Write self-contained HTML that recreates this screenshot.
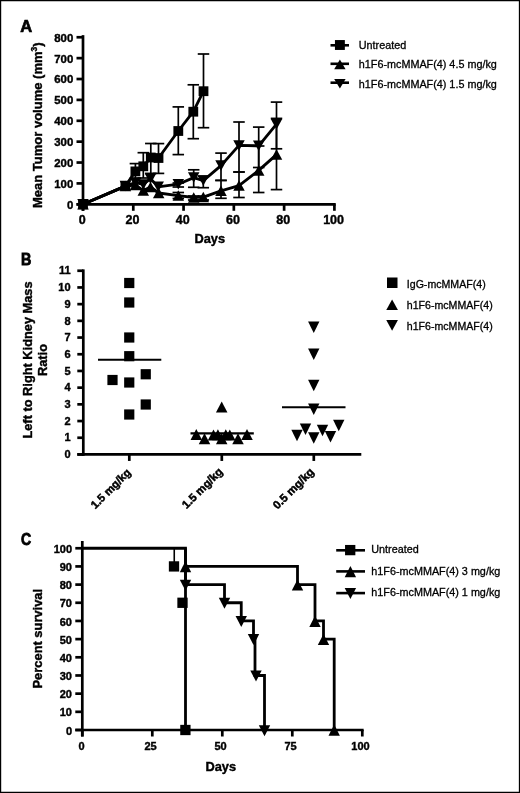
<!DOCTYPE html>
<html><head><meta charset="utf-8"><title>Figure</title>
<style>
html,body{margin:0;padding:0;background:#fff;}
#fig{position:relative;width:520px;height:793px;overflow:hidden;background:#fff;}
#fig svg{position:absolute;left:0;top:0;}
svg text{font-family:"Liberation Sans", Arial, sans-serif;fill:#000;}
svg text.b{font-weight:bold;stroke:#000;stroke-width:.4px;}
svg text.r{font-weight:normal;stroke:#000;stroke-width:.3px;}
</style></head><body>
<div id="fig">
<svg width="520" height="793" viewBox="0 0 520 793" shape-rendering="auto">
<path d="M0 0H520V793H0Z M1.2 1.15V791.75H518.85V1.15Z" fill="#000" fill-rule="evenodd"/>
<line x1="83.00" y1="35.15" x2="83.00" y2="210.80" stroke="#000" stroke-width="2.7" />
<line x1="76.50" y1="204.30" x2="335.75" y2="204.30" stroke="#000" stroke-width="2.7" />
<line x1="76.50" y1="204.30" x2="83.00" y2="204.30" stroke="#000" stroke-width="2.7" />
<text class="b" x="73.30" y="208.70" font-size="11.4" text-anchor="end" >0</text>
<line x1="76.50" y1="183.42" x2="83.00" y2="183.42" stroke="#000" stroke-width="2.7" />
<text class="b" x="73.30" y="187.82" font-size="11.4" text-anchor="end" >100</text>
<line x1="76.50" y1="162.54" x2="83.00" y2="162.54" stroke="#000" stroke-width="2.7" />
<text class="b" x="73.30" y="166.94" font-size="11.4" text-anchor="end" >200</text>
<line x1="76.50" y1="141.66" x2="83.00" y2="141.66" stroke="#000" stroke-width="2.7" />
<text class="b" x="73.30" y="146.06" font-size="11.4" text-anchor="end" >300</text>
<line x1="76.50" y1="120.78" x2="83.00" y2="120.78" stroke="#000" stroke-width="2.7" />
<text class="b" x="73.30" y="125.18" font-size="11.4" text-anchor="end" >400</text>
<line x1="76.50" y1="99.90" x2="83.00" y2="99.90" stroke="#000" stroke-width="2.7" />
<text class="b" x="73.30" y="104.30" font-size="11.4" text-anchor="end" >500</text>
<line x1="76.50" y1="79.02" x2="83.00" y2="79.02" stroke="#000" stroke-width="2.7" />
<text class="b" x="73.30" y="83.42" font-size="11.4" text-anchor="end" >600</text>
<line x1="76.50" y1="58.14" x2="83.00" y2="58.14" stroke="#000" stroke-width="2.7" />
<text class="b" x="73.30" y="62.54" font-size="11.4" text-anchor="end" >700</text>
<line x1="76.50" y1="37.26" x2="83.00" y2="37.26" stroke="#000" stroke-width="2.7" />
<text class="b" x="73.30" y="41.66" font-size="11.4" text-anchor="end" >800</text>
<line x1="83.00" y1="204.30" x2="83.00" y2="210.80" stroke="#000" stroke-width="2.7" />
<text class="b" x="82.20" y="223.90" font-size="12.5" text-anchor="middle" >0</text>
<line x1="133.28" y1="204.30" x2="133.28" y2="210.80" stroke="#000" stroke-width="2.7" />
<text class="b" x="132.48" y="223.90" font-size="12.5" text-anchor="middle" >20</text>
<line x1="183.56" y1="204.30" x2="183.56" y2="210.80" stroke="#000" stroke-width="2.7" />
<text class="b" x="182.76" y="223.90" font-size="12.5" text-anchor="middle" >40</text>
<line x1="233.84" y1="204.30" x2="233.84" y2="210.80" stroke="#000" stroke-width="2.7" />
<text class="b" x="233.04" y="223.90" font-size="12.5" text-anchor="middle" >60</text>
<line x1="284.12" y1="204.30" x2="284.12" y2="210.80" stroke="#000" stroke-width="2.7" />
<text class="b" x="283.32" y="223.90" font-size="12.5" text-anchor="middle" >80</text>
<line x1="334.40" y1="204.30" x2="334.40" y2="210.80" stroke="#000" stroke-width="2.7" />
<text class="b" x="333.60" y="223.90" font-size="12.5" text-anchor="middle" >100</text>
<text class="b" x="209.80" y="242.70" font-size="12.8" text-anchor="middle" >Days</text>
<text transform="translate(41.6,125.2) rotate(-90)" font-size="13.0" class="b" text-anchor="middle">Mean Tumor volume (mm<tspan font-size="8.5" dy="-4.5">3</tspan><tspan dy="4.5">)</tspan></text>
<text class="b" x="26.20" y="31.80" font-size="16.5" text-anchor="middle" style="stroke-width:.7px">A</text>
<line x1="178.30" y1="192.50" x2="178.30" y2="198.50" stroke="#000" stroke-width="1.7" /><line x1="172.55" y1="192.50" x2="184.05" y2="192.50" stroke="#000" stroke-width="1.7" /><line x1="172.55" y1="198.50" x2="184.05" y2="198.50" stroke="#000" stroke-width="1.7" />
<line x1="193.70" y1="196.00" x2="193.70" y2="200.00" stroke="#000" stroke-width="1.7" /><line x1="187.95" y1="196.00" x2="199.45" y2="196.00" stroke="#000" stroke-width="1.7" /><line x1="187.95" y1="200.00" x2="199.45" y2="200.00" stroke="#000" stroke-width="1.7" />
<line x1="203.30" y1="196.00" x2="203.30" y2="200.00" stroke="#000" stroke-width="1.7" /><line x1="197.55" y1="196.00" x2="209.05" y2="196.00" stroke="#000" stroke-width="1.7" /><line x1="197.55" y1="200.00" x2="209.05" y2="200.00" stroke="#000" stroke-width="1.7" />
<line x1="221.00" y1="180.40" x2="221.00" y2="198.30" stroke="#000" stroke-width="1.7" /><line x1="215.25" y1="180.40" x2="226.75" y2="180.40" stroke="#000" stroke-width="1.7" /><line x1="215.25" y1="198.30" x2="226.75" y2="198.30" stroke="#000" stroke-width="1.7" />
<line x1="239.00" y1="172.00" x2="239.00" y2="197.50" stroke="#000" stroke-width="1.7" /><line x1="233.25" y1="172.00" x2="244.75" y2="172.00" stroke="#000" stroke-width="1.7" /><line x1="233.25" y1="197.50" x2="244.75" y2="197.50" stroke="#000" stroke-width="1.7" />
<line x1="258.70" y1="146.00" x2="258.70" y2="192.50" stroke="#000" stroke-width="1.7" /><line x1="252.95" y1="146.00" x2="264.45" y2="146.00" stroke="#000" stroke-width="1.7" /><line x1="252.95" y1="192.50" x2="264.45" y2="192.50" stroke="#000" stroke-width="1.7" />
<line x1="276.50" y1="118.40" x2="276.50" y2="189.60" stroke="#000" stroke-width="1.7" /><line x1="270.75" y1="118.40" x2="282.25" y2="118.40" stroke="#000" stroke-width="1.7" /><line x1="270.75" y1="189.60" x2="282.25" y2="189.60" stroke="#000" stroke-width="1.7" />
<polyline points="83.00,204.30 125.40,186.10 135.40,185.00 143.30,190.60 150.50,187.00 158.70,193.00 178.30,195.60 193.70,197.50 203.30,197.10 221.00,190.80 239.00,185.60 258.70,170.40 276.50,154.60" fill="none" stroke="#000" stroke-width="2.85" stroke-linejoin="round"/>
<polygon points="77.25,209.55 88.75,209.55 83.00,199.05"/>
<polygon points="119.65,191.35 131.15,191.35 125.40,180.85"/>
<polygon points="129.65,190.25 141.15,190.25 135.40,179.75"/>
<polygon points="137.55,195.85 149.05,195.85 143.30,185.35"/>
<polygon points="144.75,192.25 156.25,192.25 150.50,181.75"/>
<polygon points="152.95,198.25 164.45,198.25 158.70,187.75"/>
<polygon points="172.55,200.85 184.05,200.85 178.30,190.35"/>
<polygon points="187.95,202.75 199.45,202.75 193.70,192.25"/>
<polygon points="197.55,202.35 209.05,202.35 203.30,191.85"/>
<polygon points="215.25,196.05 226.75,196.05 221.00,185.55"/>
<polygon points="233.25,190.85 244.75,190.85 239.00,180.35"/>
<polygon points="252.95,175.65 264.45,175.65 258.70,165.15"/>
<polygon points="270.75,159.85 282.25,159.85 276.50,149.35"/>
<line x1="178.30" y1="183.00" x2="178.30" y2="187.00" stroke="#000" stroke-width="1.7" /><line x1="172.55" y1="183.00" x2="184.05" y2="183.00" stroke="#000" stroke-width="1.7" /><line x1="172.55" y1="187.00" x2="184.05" y2="187.00" stroke="#000" stroke-width="1.7" />
<line x1="193.70" y1="169.80" x2="193.70" y2="187.30" stroke="#000" stroke-width="1.7" /><line x1="187.95" y1="169.80" x2="199.45" y2="169.80" stroke="#000" stroke-width="1.7" /><line x1="187.95" y1="187.30" x2="199.45" y2="187.30" stroke="#000" stroke-width="1.7" />
<line x1="203.30" y1="176.20" x2="203.30" y2="187.70" stroke="#000" stroke-width="1.7" /><line x1="197.55" y1="176.20" x2="209.05" y2="176.20" stroke="#000" stroke-width="1.7" /><line x1="197.55" y1="187.70" x2="209.05" y2="187.70" stroke="#000" stroke-width="1.7" />
<line x1="221.00" y1="153.10" x2="221.00" y2="180.40" stroke="#000" stroke-width="1.7" /><line x1="215.25" y1="153.10" x2="226.75" y2="153.10" stroke="#000" stroke-width="1.7" /><line x1="215.25" y1="180.40" x2="226.75" y2="180.40" stroke="#000" stroke-width="1.7" />
<line x1="239.00" y1="122.00" x2="239.00" y2="172.00" stroke="#000" stroke-width="1.7" /><line x1="233.25" y1="122.00" x2="244.75" y2="122.00" stroke="#000" stroke-width="1.7" /><line x1="233.25" y1="172.00" x2="244.75" y2="172.00" stroke="#000" stroke-width="1.7" />
<line x1="258.70" y1="127.10" x2="258.70" y2="167.50" stroke="#000" stroke-width="1.7" /><line x1="252.95" y1="127.10" x2="264.45" y2="127.10" stroke="#000" stroke-width="1.7" /><line x1="252.95" y1="167.50" x2="264.45" y2="167.50" stroke="#000" stroke-width="1.7" />
<line x1="276.50" y1="102.10" x2="276.50" y2="148.80" stroke="#000" stroke-width="1.7" /><line x1="270.75" y1="102.10" x2="282.25" y2="102.10" stroke="#000" stroke-width="1.7" /><line x1="270.75" y1="148.80" x2="282.25" y2="148.80" stroke="#000" stroke-width="1.7" />
<polyline points="83.00,204.30 125.40,186.10 135.40,182.50 143.30,184.40 150.50,178.70 158.20,186.80 178.30,184.20 193.70,177.60 203.30,180.60 221.00,165.60 239.00,145.40 258.70,145.80 276.50,124.20" fill="none" stroke="#000" stroke-width="2.85" stroke-linejoin="round"/>
<polygon points="77.25,199.05 88.75,199.05 83.00,209.55"/>
<polygon points="119.65,180.85 131.15,180.85 125.40,191.35"/>
<polygon points="129.65,177.25 141.15,177.25 135.40,187.75"/>
<polygon points="137.55,179.15 149.05,179.15 143.30,189.65"/>
<polygon points="144.75,173.45 156.25,173.45 150.50,183.95"/>
<polygon points="152.45,181.55 163.95,181.55 158.20,192.05"/>
<polygon points="172.55,178.95 184.05,178.95 178.30,189.45"/>
<polygon points="187.95,172.35 199.45,172.35 193.70,182.85"/>
<polygon points="197.55,175.35 209.05,175.35 203.30,185.85"/>
<polygon points="215.25,160.35 226.75,160.35 221.00,170.85"/>
<polygon points="233.25,140.15 244.75,140.15 239.00,150.65"/>
<polygon points="252.95,140.55 264.45,140.55 258.70,151.05"/>
<polygon points="270.75,118.95 282.25,118.95 276.50,129.45"/>
<line x1="135.40" y1="163.60" x2="135.40" y2="178.50" stroke="#000" stroke-width="1.7" /><line x1="129.65" y1="163.60" x2="141.15" y2="163.60" stroke="#000" stroke-width="1.7" /><line x1="129.65" y1="178.50" x2="141.15" y2="178.50" stroke="#000" stroke-width="1.7" />
<line x1="143.30" y1="152.70" x2="143.30" y2="178.00" stroke="#000" stroke-width="1.7" /><line x1="137.55" y1="152.70" x2="149.05" y2="152.70" stroke="#000" stroke-width="1.7" /><line x1="137.55" y1="178.00" x2="149.05" y2="178.00" stroke="#000" stroke-width="1.7" />
<line x1="150.80" y1="143.50" x2="150.80" y2="173.40" stroke="#000" stroke-width="1.7" /><line x1="145.05" y1="143.50" x2="156.55" y2="143.50" stroke="#000" stroke-width="1.7" /><line x1="145.05" y1="173.40" x2="156.55" y2="173.40" stroke="#000" stroke-width="1.7" />
<line x1="158.50" y1="143.60" x2="158.50" y2="173.40" stroke="#000" stroke-width="1.7" /><line x1="152.75" y1="143.60" x2="164.25" y2="143.60" stroke="#000" stroke-width="1.7" /><line x1="152.75" y1="173.40" x2="164.25" y2="173.40" stroke="#000" stroke-width="1.7" />
<line x1="178.30" y1="106.90" x2="178.30" y2="154.60" stroke="#000" stroke-width="1.7" /><line x1="172.55" y1="106.90" x2="184.05" y2="106.90" stroke="#000" stroke-width="1.7" /><line x1="172.55" y1="154.60" x2="184.05" y2="154.60" stroke="#000" stroke-width="1.7" />
<line x1="193.30" y1="84.80" x2="193.30" y2="138.70" stroke="#000" stroke-width="1.7" /><line x1="187.55" y1="84.80" x2="199.05" y2="84.80" stroke="#000" stroke-width="1.7" /><line x1="187.55" y1="138.70" x2="199.05" y2="138.70" stroke="#000" stroke-width="1.7" />
<line x1="203.50" y1="54.00" x2="203.50" y2="127.70" stroke="#000" stroke-width="1.7" /><line x1="197.75" y1="54.00" x2="209.25" y2="54.00" stroke="#000" stroke-width="1.7" /><line x1="197.75" y1="127.70" x2="209.25" y2="127.70" stroke="#000" stroke-width="1.7" />
<polyline points="83.00,204.30 125.40,186.10 135.40,171.40 143.30,166.30 150.80,157.50 158.50,158.00 178.30,131.00 193.30,111.70 203.50,91.20" fill="none" stroke="#000" stroke-width="2.85" stroke-linejoin="round"/>
<rect x="78.10" y="199.40" width="9.8" height="9.8"/>
<rect x="120.50" y="181.20" width="9.8" height="9.8"/>
<rect x="130.50" y="166.50" width="9.8" height="9.8"/>
<rect x="138.40" y="161.40" width="9.8" height="9.8"/>
<rect x="145.90" y="152.60" width="9.8" height="9.8"/>
<rect x="153.60" y="153.10" width="9.8" height="9.8"/>
<rect x="173.40" y="126.10" width="9.8" height="9.8"/>
<rect x="188.40" y="106.80" width="9.8" height="9.8"/>
<rect x="198.60" y="86.30" width="9.8" height="9.8"/>
<line x1="330.50" y1="45.30" x2="349.00" y2="45.30" stroke="#000" stroke-width="2.6" />
<rect x="334.95" y="40.05" width="9.9" height="9.9"/>
<text class="r" x="358.80" y="49.00" font-size="10.8" text-anchor="start" >Untreated</text>
<line x1="330.50" y1="63.80" x2="349.00" y2="63.80" stroke="#000" stroke-width="2.6" />
<polygon points="334.20,69.20 345.60,69.20 339.90,59.50"/>
<text class="r" x="358.80" y="68.30" font-size="10.8" text-anchor="start" >h1F6-mcMMAF(4) 4.5 mg/kg</text>
<line x1="330.50" y1="82.70" x2="349.00" y2="82.70" stroke="#000" stroke-width="2.6" />
<polygon points="334.20,78.90 345.60,78.90 339.90,88.40"/>
<text class="r" x="358.80" y="87.60" font-size="10.8" text-anchor="start" >h1F6-mcMMAF(4) 1.5 mg/kg</text>
<line x1="83.30" y1="269.40" x2="83.30" y2="455.80" stroke="#000" stroke-width="2.7" />
<line x1="77.30" y1="454.45" x2="361.30" y2="454.45" stroke="#000" stroke-width="2.7" />
<line x1="77.30" y1="454.45" x2="83.30" y2="454.45" stroke="#000" stroke-width="2.7" />
<text class="b" x="70.60" y="458.15" font-size="11" text-anchor="end" >0</text>
<line x1="77.30" y1="437.75" x2="83.30" y2="437.75" stroke="#000" stroke-width="2.7" />
<text class="b" x="70.60" y="441.45" font-size="11" text-anchor="end" >1</text>
<line x1="77.30" y1="421.05" x2="83.30" y2="421.05" stroke="#000" stroke-width="2.7" />
<text class="b" x="70.60" y="424.75" font-size="11" text-anchor="end" >2</text>
<line x1="77.30" y1="404.35" x2="83.30" y2="404.35" stroke="#000" stroke-width="2.7" />
<text class="b" x="70.60" y="408.05" font-size="11" text-anchor="end" >3</text>
<line x1="77.30" y1="387.65" x2="83.30" y2="387.65" stroke="#000" stroke-width="2.7" />
<text class="b" x="70.60" y="391.35" font-size="11" text-anchor="end" >4</text>
<line x1="77.30" y1="370.95" x2="83.30" y2="370.95" stroke="#000" stroke-width="2.7" />
<text class="b" x="70.60" y="374.65" font-size="11" text-anchor="end" >5</text>
<line x1="77.30" y1="354.25" x2="83.30" y2="354.25" stroke="#000" stroke-width="2.7" />
<text class="b" x="70.60" y="357.95" font-size="11" text-anchor="end" >6</text>
<line x1="77.30" y1="337.55" x2="83.30" y2="337.55" stroke="#000" stroke-width="2.7" />
<text class="b" x="70.60" y="341.25" font-size="11" text-anchor="end" >7</text>
<line x1="77.30" y1="320.85" x2="83.30" y2="320.85" stroke="#000" stroke-width="2.7" />
<text class="b" x="70.60" y="324.55" font-size="11" text-anchor="end" >8</text>
<line x1="77.30" y1="304.15" x2="83.30" y2="304.15" stroke="#000" stroke-width="2.7" />
<text class="b" x="70.60" y="307.85" font-size="11" text-anchor="end" >9</text>
<line x1="77.30" y1="287.45" x2="83.30" y2="287.45" stroke="#000" stroke-width="2.7" />
<text class="b" x="70.60" y="291.15" font-size="11" text-anchor="end" >10</text>
<line x1="77.30" y1="270.75" x2="83.30" y2="270.75" stroke="#000" stroke-width="2.7" />
<text class="b" x="70.60" y="274.45" font-size="11" text-anchor="end" >11</text>
<line x1="129.30" y1="454.45" x2="129.30" y2="460.95" stroke="#000" stroke-width="2.7" />
<text transform="translate(131.50,473.2) rotate(-45)" font-size="11.1" class="b" style="stroke-width:.5px" text-anchor="end">1.5 mg/kg</text>
<line x1="221.80" y1="454.45" x2="221.80" y2="460.95" stroke="#000" stroke-width="2.7" />
<text transform="translate(223.30,472.5) rotate(-45)" font-size="11.25" class="b" style="stroke-width:.5px" text-anchor="end">1.5 mg/kg</text>
<line x1="313.80" y1="454.45" x2="313.80" y2="460.95" stroke="#000" stroke-width="2.7" />
<text transform="translate(314.70,472.6) rotate(-45)" font-size="11.4" class="b" style="stroke-width:.5px" text-anchor="end">0.5 mg/kg</text>
<text transform="translate(31.5,360) rotate(-90)" font-size="12.8" class="b" text-anchor="middle">Left to Right Kidney Mass</text>
<text transform="translate(47,360) rotate(-90)" font-size="12.8" class="b" text-anchor="middle">Ratio</text>
<text class="b" transform="translate(26.2,265.2) scale(0.9,1)" font-size="16.0" style="stroke-width:.8px" text-anchor="middle">B</text>
<rect x="124.15" y="277.90" width="10.2" height="10.2"/>
<rect x="124.15" y="297.40" width="10.2" height="10.2"/>
<rect x="124.15" y="332.40" width="10.2" height="10.2"/>
<rect x="124.15" y="351.10" width="10.2" height="10.2"/>
<rect x="140.65" y="369.15" width="10.2" height="10.2"/>
<rect x="107.40" y="374.90" width="10.2" height="10.2"/>
<rect x="124.15" y="377.40" width="10.2" height="10.2"/>
<rect x="140.65" y="399.40" width="10.2" height="10.2"/>
<rect x="124.15" y="409.40" width="10.2" height="10.2"/>
<line x1="98.00" y1="359.70" x2="161.30" y2="359.70" stroke="#000" stroke-width="2.1" />
<polygon points="215.95,412.40 227.45,412.40 221.70,401.40"/>
<polygon points="190.55,439.90 202.05,439.90 196.30,428.90"/>
<polygon points="241.25,439.90 252.75,439.90 247.00,428.90"/>
<polygon points="198.75,444.30 210.25,444.30 204.50,433.30"/>
<polygon points="232.25,444.30 243.75,444.30 238.00,433.30"/>
<polygon points="207.75,440.50 219.25,440.50 213.50,429.50"/>
<polygon points="224.05,440.50 235.55,440.50 229.80,429.50"/>
<polygon points="212.15,440.30 223.65,440.30 217.90,429.30"/>
<polygon points="220.05,440.30 231.55,440.30 225.80,429.30"/>
<polygon points="215.95,444.30 227.45,444.30 221.70,433.30"/>
<line x1="190.50" y1="433.40" x2="253.80" y2="433.40" stroke="#000" stroke-width="2.1" />
<polygon points="308.05,321.60 319.45,321.60 313.75,332.90"/>
<polygon points="308.05,348.60 319.45,348.60 313.75,359.90"/>
<polygon points="308.05,379.85 319.45,379.85 313.75,391.15"/>
<polygon points="308.05,403.60 319.45,403.60 313.75,414.90"/>
<polygon points="333.05,419.85 344.45,419.85 338.75,431.15"/>
<polygon points="299.80,423.60 311.20,423.60 305.50,434.90"/>
<polygon points="316.80,424.85 328.20,424.85 322.50,436.15"/>
<polygon points="291.30,429.85 302.70,429.85 297.00,441.15"/>
<polygon points="308.05,432.35 319.45,432.35 313.75,443.65"/>
<polygon points="324.80,431.10 336.20,431.10 330.50,442.40"/>
<line x1="282.00" y1="407.20" x2="345.50" y2="407.20" stroke="#000" stroke-width="2.1" />
<rect x="387.00" y="277.50" width="10.5" height="10.5"/>
<text class="r" x="406.80" y="288.30" font-size="10.6" text-anchor="start" >IgG-mcMMAF(4)</text>
<polygon points="386.25,310.00 397.95,310.00 392.10,299.50"/>
<text class="r" x="406.80" y="309.10" font-size="10.6" text-anchor="start" >h1F6-mcMMAF(4)</text>
<polygon points="386.25,320.05 397.95,320.05 392.10,330.75"/>
<text class="r" x="406.80" y="330.00" font-size="10.6" text-anchor="start" >h1F6-mcMMAF(4)</text>
<line x1="82.30" y1="541.00" x2="82.30" y2="736.50" stroke="#000" stroke-width="2.7" />
<line x1="75.30" y1="730.00" x2="363.65" y2="730.00" stroke="#000" stroke-width="2.7" />
<line x1="75.30" y1="730.00" x2="82.30" y2="730.00" stroke="#000" stroke-width="2.7" />
<text class="b" x="72.00" y="734.60" font-size="11" text-anchor="end" >0</text>
<line x1="75.30" y1="711.83" x2="82.30" y2="711.83" stroke="#000" stroke-width="2.7" />
<text class="b" x="72.00" y="716.43" font-size="11" text-anchor="end" >10</text>
<line x1="75.30" y1="693.65" x2="82.30" y2="693.65" stroke="#000" stroke-width="2.7" />
<text class="b" x="72.00" y="698.25" font-size="11" text-anchor="end" >20</text>
<line x1="75.30" y1="675.48" x2="82.30" y2="675.48" stroke="#000" stroke-width="2.7" />
<text class="b" x="72.00" y="680.08" font-size="11" text-anchor="end" >30</text>
<line x1="75.30" y1="657.30" x2="82.30" y2="657.30" stroke="#000" stroke-width="2.7" />
<text class="b" x="72.00" y="661.90" font-size="11" text-anchor="end" >40</text>
<line x1="75.30" y1="639.12" x2="82.30" y2="639.12" stroke="#000" stroke-width="2.7" />
<text class="b" x="72.00" y="643.73" font-size="11" text-anchor="end" >50</text>
<line x1="75.30" y1="620.95" x2="82.30" y2="620.95" stroke="#000" stroke-width="2.7" />
<text class="b" x="72.00" y="625.55" font-size="11" text-anchor="end" >60</text>
<line x1="75.30" y1="602.77" x2="82.30" y2="602.77" stroke="#000" stroke-width="2.7" />
<text class="b" x="72.00" y="607.38" font-size="11" text-anchor="end" >70</text>
<line x1="75.30" y1="584.60" x2="82.30" y2="584.60" stroke="#000" stroke-width="2.7" />
<text class="b" x="72.00" y="589.20" font-size="11" text-anchor="end" >80</text>
<line x1="75.30" y1="566.42" x2="82.30" y2="566.42" stroke="#000" stroke-width="2.7" />
<text class="b" x="72.00" y="571.02" font-size="11" text-anchor="end" >90</text>
<line x1="75.30" y1="548.25" x2="82.30" y2="548.25" stroke="#000" stroke-width="2.7" />
<text class="b" x="72.00" y="552.85" font-size="11" text-anchor="end" >100</text>
<line x1="82.30" y1="730.00" x2="82.30" y2="736.50" stroke="#000" stroke-width="2.7" />
<text class="b" x="81.60" y="750.40" font-size="11" text-anchor="middle" >0</text>
<line x1="152.30" y1="730.00" x2="152.30" y2="736.50" stroke="#000" stroke-width="2.7" />
<text class="b" x="150.50" y="750.40" font-size="11" text-anchor="middle" >25</text>
<line x1="222.30" y1="730.00" x2="222.30" y2="736.50" stroke="#000" stroke-width="2.7" />
<text class="b" x="220.50" y="750.40" font-size="11" text-anchor="middle" >50</text>
<line x1="292.30" y1="730.00" x2="292.30" y2="736.50" stroke="#000" stroke-width="2.7" />
<text class="b" x="290.50" y="750.40" font-size="11" text-anchor="middle" >75</text>
<line x1="362.30" y1="730.00" x2="362.30" y2="736.50" stroke="#000" stroke-width="2.7" />
<text class="b" x="360.50" y="750.40" font-size="11" text-anchor="middle" >100</text>
<text class="b" x="220.80" y="770.50" font-size="12.8" text-anchor="middle" >Days</text>
<text transform="translate(41.6,638.7) rotate(-90)" font-size="12.9" class="b" text-anchor="middle">Percent survival</text>
<text class="b" transform="translate(26.2,545.1) scale(0.87,1)" font-size="16.2" style="stroke-width:.8px" text-anchor="middle">C</text>
<polyline points="82.30,548.25 185.50,548.25 185.50,730.00" fill="none" stroke="#000" stroke-width="2.8" stroke-linejoin="miter"/>
<line x1="174.25" y1="548.25" x2="174.25" y2="566.42" stroke="#000" stroke-width="1.6" />
<rect x="168.85" y="561.27" width="10.3" height="10.3"/>
<rect x="177.35" y="597.62" width="10.3" height="10.3"/>
<rect x="180.25" y="724.85" width="10.3" height="10.3"/>
<polyline points="185.50,548.25 185.50,566.42 297.50,566.42 297.50,584.60 315.00,584.60 315.00,620.95 323.50,620.95 323.50,639.12 334.20,639.12 334.20,730.00" fill="none" stroke="#000" stroke-width="2.8" stroke-linejoin="miter"/>
<polygon points="179.80,572.32 191.20,572.32 185.50,561.12"/>
<polygon points="291.80,590.60 303.20,590.60 297.50,579.40"/>
<polygon points="309.30,626.95 320.70,626.95 315.00,615.75"/>
<polygon points="317.80,645.12 329.20,645.12 323.50,633.92"/>
<polygon points="328.50,735.80 339.90,735.80 334.20,724.60"/>
<polyline points="185.50,566.42 185.50,584.60 224.50,584.60 224.50,602.77 241.25,602.77 241.25,620.95 253.50,620.95 253.50,639.12 255.00,639.12 255.00,675.48 264.50,675.48 264.50,730.00" fill="none" stroke="#000" stroke-width="2.8" stroke-linejoin="miter"/>
<polygon points="179.80,579.70 191.20,579.70 185.50,590.70"/>
<polygon points="218.80,597.77 230.20,597.77 224.50,608.77"/>
<polygon points="235.55,615.95 246.95,615.95 241.25,626.95"/>
<polygon points="247.80,634.12 259.20,634.12 253.50,645.12"/>
<polygon points="250.30,670.48 261.70,670.48 256.00,681.48"/>
<polygon points="258.80,725.30 270.20,725.30 264.50,736.30"/>
<line x1="336.20" y1="550.30" x2="365.00" y2="550.30" stroke="#000" stroke-width="2.6" />
<rect x="345.05" y="544.95" width="10.3" height="10.3"/>
<text class="r" x="371.30" y="553.30" font-size="10.8" text-anchor="start" >Untreated</text>
<line x1="336.20" y1="571.40" x2="365.00" y2="571.40" stroke="#000" stroke-width="2.6" />
<polygon points="344.70,577.20 356.10,577.20 350.40,566.00"/>
<text class="r" x="371.30" y="574.50" font-size="10.8" text-anchor="start" >h1F6-mcMMAF(4) 3 mg/kg</text>
<line x1="336.20" y1="593.10" x2="365.00" y2="593.10" stroke="#000" stroke-width="2.6" />
<polygon points="344.70,588.10 356.10,588.10 350.40,598.90"/>
<text class="r" x="371.30" y="596.40" font-size="10.8" text-anchor="start" >h1F6-mcMMAF(4) 1 mg/kg</text>
</svg>
</div>
</body></html>
